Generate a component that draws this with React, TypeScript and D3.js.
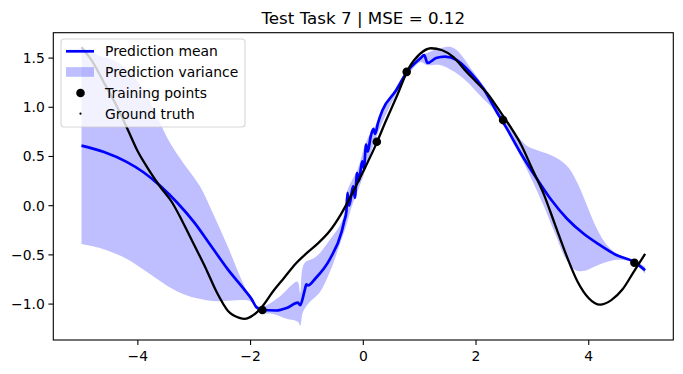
import * as d3 from 'd3';

// values, as [x, y]
const truthPts: [number, number][] = [
  [-5.0, 1.61], [-4.8, 1.46], [-4.6, 1.25], [-4.4, 1.04], [-4.2, 0.8], [-4.0, 0.55],
  [-3.8, 0.36], [-3.6, 0.19], [-3.4, 0.04], [-3.2, -0.17], [-3.0, -0.4], [-2.8, -0.63],
  [-2.6, -0.88], [-2.4, -1.07], [-2.2, -1.14], [-2.1, -1.15], [-2.0, -1.13], [-1.9, -1.09],
  [-1.8, -1.03], [-1.6, -0.87], [-1.4, -0.73], [-1.2, -0.59], [-1.0, -0.48], [-0.8, -0.38],
  [-0.6, -0.26], [-0.4, -0.09], [-0.2, 0.12], [0.0, 0.35], [0.2, 0.59], [0.4, 0.86],
  [0.6, 1.12], [0.8, 1.39], [1.0, 1.54], [1.2, 1.6], [1.4, 1.58], [1.6, 1.51], [1.8, 1.38],
  [2.0, 1.26], [2.2, 1.14], [2.4, 0.98], [2.6, 0.81], [2.8, 0.62], [3.0, 0.37], [3.2, 0.12],
  [3.4, -0.19], [3.6, -0.5], [3.8, -0.77], [4.0, -0.94], [4.2, -1.006], [4.4, -0.96],
  [4.6, -0.85], [4.8, -0.67], [5.0, -0.49],
];

const meanPts: [number, number][] = [
  [-5.0, 0.61], [-4.6, 0.545], [-4.2, 0.445], [-3.9, 0.34], [-3.6, 0.2], [-3.3, 0.03],
  [-3.0, -0.17], [-2.7, -0.41], [-2.4, -0.65], [-2.1, -0.86], [-1.98, -0.95], [-1.9, -1.03],
  [-1.8, -1.06], [-1.55, -1.065], [-1.36, -1.04], [-1.16, -0.985], [-1.12, -1.01],
  [-1.04, -0.86], [-1.01, -0.8], [-0.98, -0.81], [-0.85, -0.74], [-0.59, -0.54],
  [-0.385, -0.267], [-0.34, -0.16], [-0.3, -0.06], [-0.28, 0.13], [-0.25, 0.0],
  [-0.18, 0.2], [-0.15, 0.08], [-0.11, 0.33], [-0.08, 0.25], [-0.02, 0.45], [0.01, 0.38],
  [0.05, 0.62], [0.08, 0.55], [0.13, 0.7], [0.18, 0.78], [0.21, 0.73], [0.26, 0.84],
  [0.34, 0.97], [0.58, 1.17], [0.79, 1.37], [1.02, 1.5], [1.08, 1.53], [1.14, 1.45],
  [1.29, 1.5], [1.45, 1.515], [1.66, 1.48], [1.89, 1.36], [2.13, 1.19], [2.37, 0.95],
  [2.55, 0.78], [2.78, 0.546], [3.02, 0.325], [3.32, 0.07], [3.61, -0.13], [3.91, -0.285],
  [4.2, -0.4], [4.5, -0.504], [4.8, -0.57], [5.0, -0.657],
];

const upperPts: [number, number][] = [
  [-5.0, 1.6], [-4.7, 1.53], [-4.4, 1.47], [-4.1, 1.33], [-3.85, 1.13], [-3.65, 0.9],
  [-3.45, 0.66], [-3.2, 0.44], [-2.9, 0.2], [-2.65, -0.1], [-2.4, -0.42], [-2.17, -0.74],
  [-2.0, -0.94], [-1.9, -1.01], [-1.8, -1.03], [-1.5, -0.93], [-1.17, -0.77], [-1.12, -0.89],
  [-1.05, -0.59], [-0.84, -0.52], [-0.6, -0.35], [-0.37, -0.145], [-0.28, 0.16],
  [-0.1, 0.37], [0.05, 0.65], [0.26, 0.86], [0.58, 1.2], [0.79, 1.4], [1.02, 1.53],
  [1.1, 1.545], [1.36, 1.6], [1.57, 1.61], [1.72, 1.545], [1.89, 1.41], [2.07, 1.27],
  [2.28, 1.1], [2.46, 0.92], [2.6, 0.83], [2.75, 0.7], [2.9, 0.61], [3.1, 0.56], [3.3, 0.52],
  [3.5, 0.46], [3.65, 0.38], [3.8, 0.23], [3.97, 0.0], [4.14, -0.23], [4.32, -0.4],
  [4.5, -0.49], [4.68, -0.545], [4.81, -0.565], [5.0, -0.62],
];

const lowerPts: [number, number][] = [
  [-5.0, -0.39], [-4.62, -0.44], [-4.2, -0.54], [-3.85, -0.67], [-3.49, -0.81],
  [-3.14, -0.91], [-2.78, -0.96], [-2.55, -0.97], [-2.25, -0.96], [-2.01, -0.97],
  [-1.89, -1.05], [-1.8, -1.09], [-1.6, -1.1], [-1.36, -1.15], [-1.16, -1.18],
  [-1.12, -1.22], [-1.07, -1.08], [-0.95, -0.98], [-0.77, -0.88], [-0.59, -0.67],
  [-0.42, -0.4], [-0.3, -0.2], [-0.2, 0.0], [0.0, 0.3], [0.26, 0.74], [0.58, 1.13],
  [0.79, 1.33], [1.02, 1.46], [1.12, 1.43], [1.36, 1.43], [1.6, 1.365], [1.84, 1.26],
  [2.07, 1.12], [2.31, 0.98], [2.46, 0.86], [2.6, 0.7], [2.8, 0.49], [3.0, 0.25],
  [3.2, 0.0], [3.4, -0.28], [3.6, -0.55], [3.75, -0.65], [3.9, -0.665], [4.1, -0.62],
  [4.3, -0.575], [4.5, -0.55], [4.7, -0.56], [4.81, -0.58], [5.0, -0.69],
];

const trainPts: [number, number][] = [
  [-1.79, -1.06], [0.24, 0.65], [0.77, 1.36], [2.48, 0.87], [4.81, -0.58],
];

const xTicks = [-4, -2, 0, 2, 4];
const yTicks = [-1.0, -0.5, 0.0, 0.5, 1.0, 1.5];
const legendLabels = ['Prediction mean', 'Prediction variance', 'Training points', 'Ground truth'];
const title = 'Test Task 7 | MSE = 0.12';

const W = 683;
const H = 374;
const left = 53.3, right = 673.3, top = 32.7, bottom = 340;
const FONT = 'DejaVu Sans, sans-serif';

const fmt = (v: number, dec: number) => {
  const s = Math.abs(v).toFixed(dec);
  return v < 0 ? '\u2212' + s : s;
};

export default function App() {
  const x = d3.scaleLinear().domain([-5.5, 5.5]).range([left, right]);
  const y = d3.scaleLinear().domain([-1.365, 1.758]).range([bottom, top]);

  const smooth = d3.line<[number, number]>()
    .x((d) => x(d[0]))
    .y((d) => y(d[1]))
    .curve(d3.curveMonotoneX);
  const band = d3.line<[number, number]>()
    .x((d) => x(d[0]))
    .y((d) => y(d[1]))
    .curve(d3.curveCatmullRom.alpha(0.5));

  const bandPath =
    band(upperPts)! + band([...lowerPts].reverse())!.replace(/^M/, 'L') + 'Z';

  const lx = 61, ly = 39;
  const rowY = [51.3, 72, 93, 113.7];

  return (
    <svg width={W} height={H} style={{ position: 'absolute', left: 0, top: 0, background: '#fff' }}
      fontFamily={FONT}>
      <defs>
        <clipPath id="plot">
          <rect x={left} y={top} width={right - left} height={bottom - top} />
        </clipPath>
      </defs>
      <rect x={0} y={0} width={W} height={H} fill="#fff" />

      <g clipPath="url(#plot)">
        <path d={smooth(meanPts)!} fill="none" stroke="#0000ff" strokeWidth={2.7} strokeLinejoin="round" />
        <path d={bandPath} fill="#0000ff" fillOpacity={0.25} stroke="none" />
        {trainPts.map((p, i) => (
          <circle key={i} cx={x(p[0])} cy={y(p[1])} r={4.3} fill="#000" />
        ))}
        <path d={smooth(truthPts)!} fill="none" stroke="#000" strokeWidth={2.3} />
      </g>

      {/* axes frame */}
      <rect x={left} y={top} width={right - left} height={bottom - top} fill="none" stroke="#000" strokeWidth={1.1} />

      {xTicks.map((t) => (
        <g key={'x' + t}>
          <line x1={x(t)} x2={x(t)} y1={bottom} y2={bottom + 4.9} stroke="#000" strokeWidth={1.1} />
          <text x={x(t)} y={bottom + 21} fontSize={13.9} textAnchor="middle" fill="#000">
            {fmt(t, 0)}
          </text>
        </g>
      ))}
      {yTicks.map((t) => (
        <g key={'y' + t}>
          <line x1={left - 4.9} x2={left} y1={y(t)} y2={y(t)} stroke="#000" strokeWidth={1.1} />
          <text x={left - 8.5} y={y(t) + 5} fontSize={13.9} textAnchor="end" fill="#000">
            {fmt(t, 1)}
          </text>
        </g>
      ))}

      <text x={(left + right) / 2} y={24.4} fontSize={16.7} textAnchor="middle" fill="#000">
        {title}
      </text>

      {/* legend */}
      <rect x={lx} y={ly} width={184} height={88} rx={3} fill="#fff" fillOpacity={0.8}
        stroke="#cccccc" strokeOpacity={0.8} strokeWidth={1.1} />
      <line x1={66} x2={94} y1={rowY[0]} y2={rowY[0]} stroke="#0000ff" strokeWidth={2.7} />
      <rect x={66} y={rowY[1] - 4.9} width={28} height={9.7} fill="#0000ff" fillOpacity={0.25} />
      <circle cx={80.5} cy={rowY[2]} r={4.3} fill="#000" />
      <circle cx={80.5} cy={rowY[3]} r={1.1} fill="#000" />
      {legendLabels.map((l, i) => (
        <text key={l} x={105} y={rowY[i] + 5} fontSize={13.9} fill="#000">{l}</text>
      ))}
    </svg>
  );
}
